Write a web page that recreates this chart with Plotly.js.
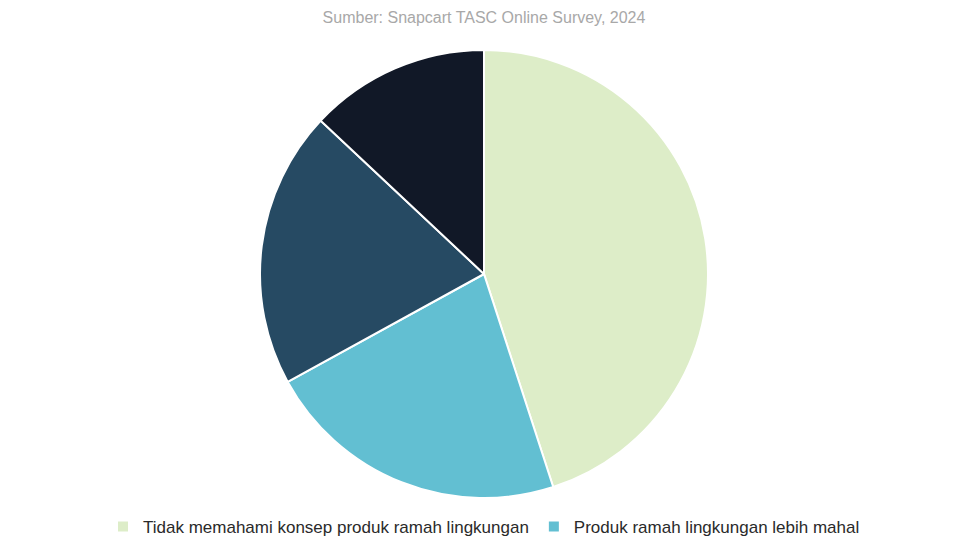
<!DOCTYPE html>
<html>
<head>
<meta charset="utf-8">
<script src="https://cdn.plot.ly/plotly-3.0.1.min.js"></script>
<style>
html,body{margin:0;padding:0;background:#fff;overflow:hidden;}
#chart{width:968px;height:620px;}
</style>
</head>
<body>
<div id="chart"></div>
<script>
const categories = [
  "Tidak memahami konsep produk ramah lingkungan",
  "Produk ramah lingkungan lebih mahal",
  "Produk ramah lingkungan sulit ditemukan",
  "Lainnya"
];
const values = [45, 22, 20, 13];
const colors = ["#ddedc8", "#62bfd2", "#264a63", "#111827"];
const titleText = "Sumber: Snapcart TASC Online Survey, 2024";

const H = 620;
const data = [{
  type: "pie",
  labels: categories,
  values: values,
  sort: false,
  direction: "clockwise",
  rotation: 0,
  textinfo: "none",
  marker: {colors: colors, line: {color: "#ffffff", width: 2}},
  domain: {x: [0, 1], y: [(H - 498) / H, (H - 50) / H]},
  hole: 0
}];

const layout = {
  width: 968,
  height: H,
  margin: {l: 0, r: 0, t: 0, b: 0},
  paper_bgcolor: "#ffffff",
  font: {family: "Liberation Sans, Arial, sans-serif", color: "#333333"},
  title: {
    text: titleText,
    font: {size: 16, color: "#a8a8a8", family: "Liberation Sans, Arial, sans-serif"},
    x: 0.5, xanchor: "center",
    yref: "container", y: 1 - 17 / H, yanchor: "middle"
  },
  showlegend: true,
  legend: {
    orientation: "h",
    x: 0.5, xanchor: "center",
    y: (H - 509) / H, yanchor: "top",
    font: {size: 17, color: "#2a2a2a"},
    traceorder: "normal"
  }
};

Plotly.newPlot("chart", data, layout, {displayModeBar: false, staticPlot: true});
</script>
</body>
</html>
